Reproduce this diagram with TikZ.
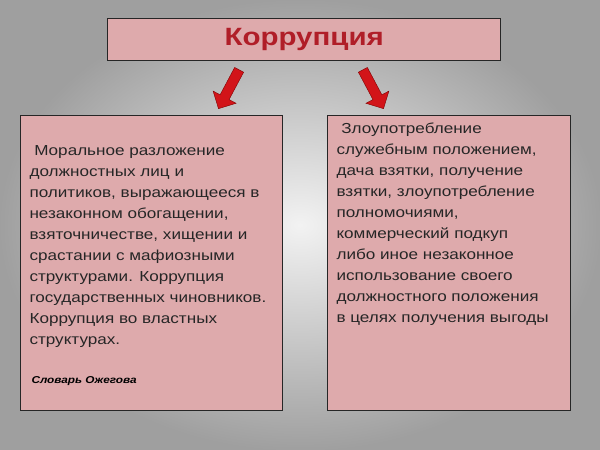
\documentclass[tikz,border=0pt]{standalone}
\usepackage{fontspec}
\setmainfont[FakeStretch=1.18]{Liberation Sans}
\usetikzlibrary{shapes.arrows}
\definecolor{boxpink}{RGB}{222,170,172}
\definecolor{titlered}{RGB}{176,30,40}
\definecolor{arrred}{RGB}{210,20,25}
\tikzset{
  panel/.style={draw=black!85,line width=1.4pt,fill=boxpink,anchor=north west,inner sep=0pt},
  body/.style={anchor=north west,align=left,font=\fontsize{14.5}{21}\selectfont,text=black!85},
  bigarrow/.style={single arrow,draw=red!50!black,fill=arrred,minimum width=26pt,single arrow head extend=5pt,minimum height=44pt,inner sep=3pt}
}
\begin{document}
\begin{tikzpicture}[x=1pt,y=1pt]
\shade[outer color=gray!75,inner color=gray!10] (0,0) rectangle (600,-450);
\useasboundingbox (0,0) rectangle (600,-450);
\node[panel,minimum width=393pt,minimum height=42pt] (title) at (107,-18) {};
\node[font=\fontsize{25}{27}\bfseries,text=titlered] (tt) at (title.center) {Коррупция};
\node[bigarrow,rotate=-118] (al) at (230,-87) {};
\node[bigarrow,rotate=-62] (ar) at (372,-87) {};
\node[panel,minimum width=262pt,minimum height=295pt] (lb) at (20,-115) {};
\node[panel,minimum width=243pt,minimum height=295pt] (rb) at (327,-115) {};
\node[body] (lt) at (26,-142) {\ Моральное разложение\\должностных лиц и\\политиков, выражающееся в\\незаконном обогащении,\\взяточничестве, хищении и\\срастании с мафиозными\\структурами. Коррупция\\государственных чиновников.\\Коррупция во властных\\структурах.};
\node[font=\fontsize{10}{11}\bfseries\itshape,anchor=west] (src) at (28,-381) {Словарь Ожегова};
\node[body] (rt) at (333,-119) {\ Злоупотребление\\служебным положением,\\дача взятки, получение\\взятки, злоупотребление\\полномочиями,\\коммерческий подкуп\\либо иное незаконное\\использование своего\\должностного положения\\в целях получения выгоды};
\end{tikzpicture}
\end{document}
